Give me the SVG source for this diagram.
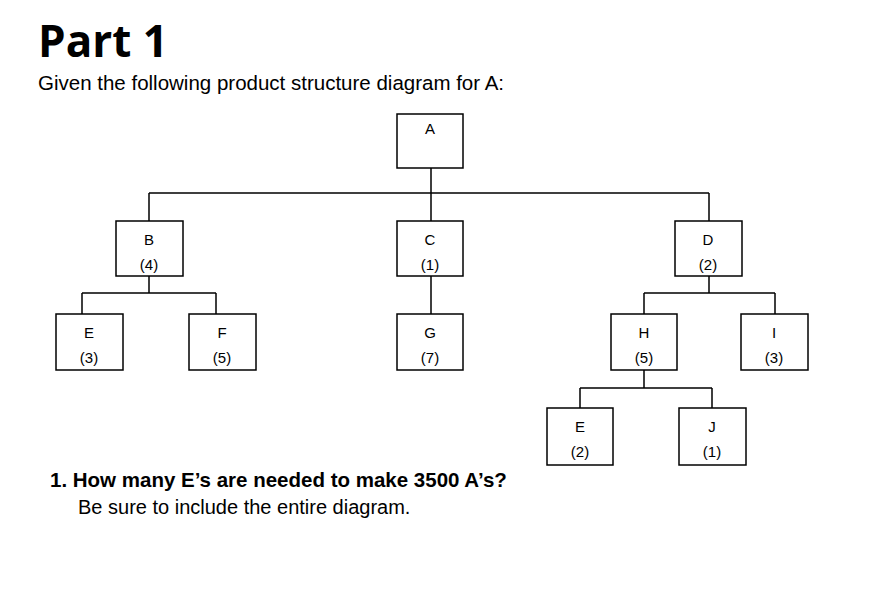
<svg xmlns="http://www.w3.org/2000/svg" width="872" height="591" viewBox="0 0 872 591">
<style>
.n{fill:#fff;stroke:#000;stroke-width:1.5}
.t{font-family:"Liberation Sans",Arial,sans-serif;font-size:15px;text-anchor:middle}
.c{stroke:#000;stroke-width:1.5;fill:none}
</style>
<rect width="872" height="591" fill="#fff"/>
<text x="38" y="57" font-family="Open Sans,sans-serif" font-weight="bold" font-size="44">Part 1</text>
<text x="38" y="90" font-family="Liberation Sans,Arial,sans-serif" font-size="20.5">Given the following product structure diagram for A:</text>
<g id="connectors">
<path class="c" d="M431 168V221M149 193H709M149 193V221M709 193V221M149 276V293M82 293H216M82 293V314M216 293V314M431 276V314M709 276V293M644 293H775M644 293V314M775 293V314M644 370V388M580 388H712M580 388V408M712 388V408"/>
</g>
<g id="A"><rect class="n" x="397" y="114" width="66" height="54"/><text class="t" x="430" y="134">A</text></g>
<g id="B"><rect class="n" x="116" y="221" width="67" height="55"/><text class="t" x="149" y="245">B</text><text class="t" x="149" y="270">(4)</text></g>
<g id="C"><rect class="n" x="397" y="221" width="66" height="55"/><text class="t" x="430" y="245">C</text><text class="t" x="430" y="270">(1)</text></g>
<g id="D"><rect class="n" x="675" y="221" width="67" height="55"/><text class="t" x="708" y="245">D</text><text class="t" x="708" y="270">(2)</text></g>
<g id="E1"><rect class="n" x="56" y="314" width="67" height="56"/><text class="t" x="89" y="338">E</text><text class="t" x="89" y="363">(3)</text></g>
<g id="F"><rect class="n" x="189" y="314" width="67" height="56"/><text class="t" x="222" y="338">F</text><text class="t" x="222" y="363">(5)</text></g>
<g id="G"><rect class="n" x="397" y="314" width="66" height="56"/><text class="t" x="430" y="338">G</text><text class="t" x="430" y="363">(7)</text></g>
<g id="H"><rect class="n" x="611" y="314" width="66" height="56"/><text class="t" x="644" y="338">H</text><text class="t" x="644" y="363">(5)</text></g>
<g id="I"><rect class="n" x="741" y="314" width="67" height="56"/><text class="t" x="774" y="338">I</text><text class="t" x="774" y="363">(3)</text></g>
<g id="E2"><rect class="n" x="547" y="408" width="66" height="57"/><text class="t" x="580" y="432">E</text><text class="t" x="580" y="457">(2)</text></g>
<g id="J"><rect class="n" x="679" y="408" width="67" height="57"/><text class="t" x="712" y="432">J</text><text class="t" x="712" y="457">(1)</text></g>
<text x="50" y="487" font-family="Liberation Sans,Arial,sans-serif" font-weight="bold" font-size="20.5">1. How many E’s are needed to make 3500 A’s?</text>
<text x="78" y="514" font-family="Liberation Sans,Arial,sans-serif" font-size="20">Be sure to include the entire diagram.</text>
</svg>
